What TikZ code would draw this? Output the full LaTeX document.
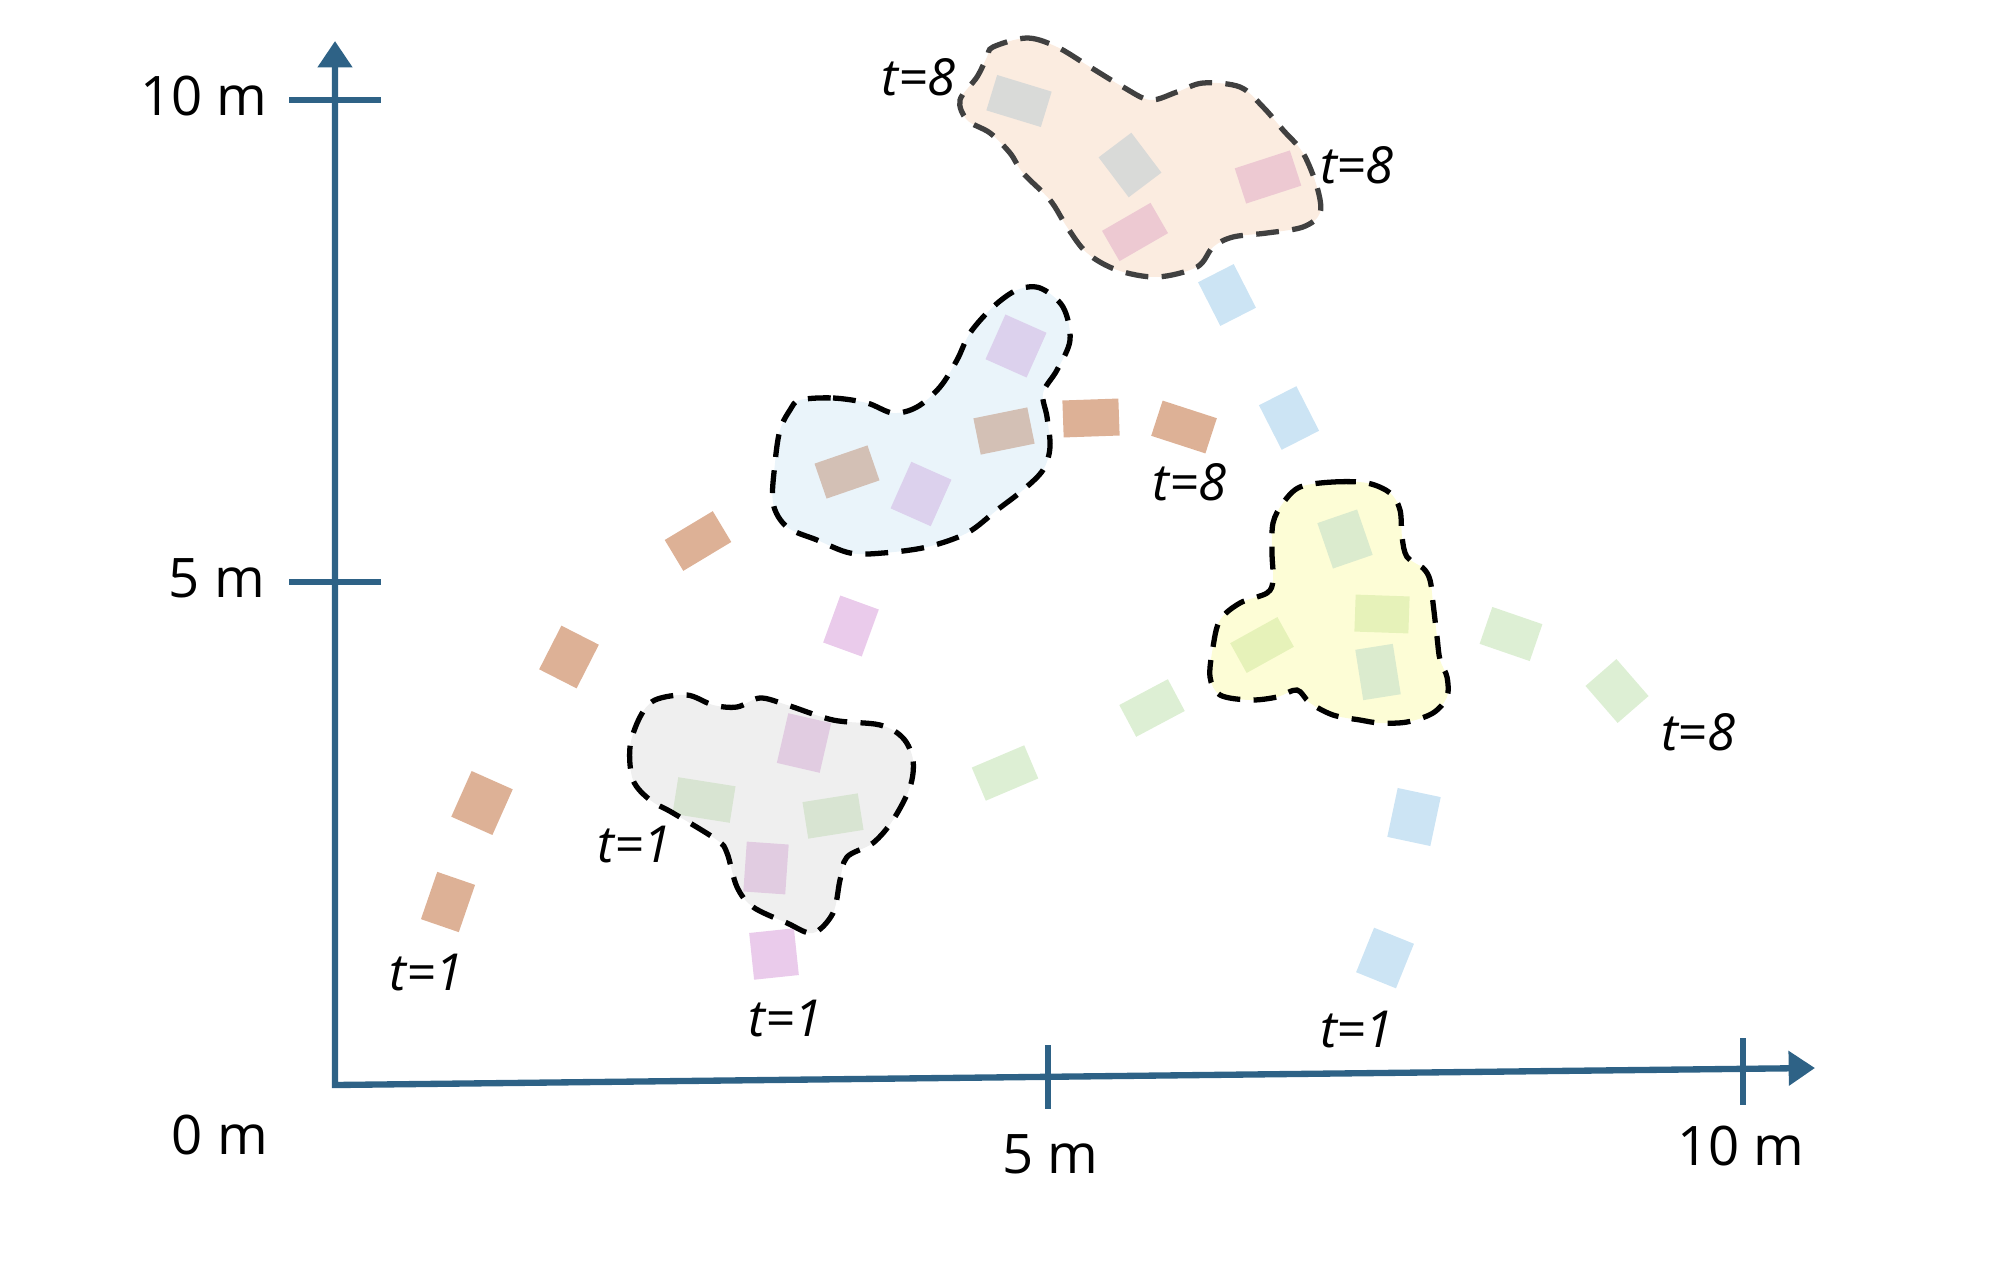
\documentclass[tikz,border=0pt]{standalone}
\usepackage{fontspec}
\setmainfont{Open Sans}
\usetikzlibrary{arrows.meta}
\definecolor{axisblue}{RGB}{46,98,134}
\definecolor{brn}{RGB}{221,177,150}
\definecolor{pnk}{RGB}{234,203,235}
\definecolor{grn}{RGB}{221,239,212}
\definecolor{blu}{RGB}{204,228,244}
\definecolor{greyblob}{RGB}{208,208,208}
\definecolor{blueblob}{RGB}{194,223,241}
\definecolor{peachblob}{RGB}{243,199,164}
\definecolor{yellowblob}{RGB}{249,249,134}
\tikzset{
  blk/.style={inner sep=0pt, draw=none},
  tlab/.style={font=\fontsize{14.5}{16}\selectfont\itshape},
  mlab/.style={font=\fontsize{15.5}{18}\selectfont},
  blob/.style={fill opacity=0.34, dash pattern=on 6.5pt off 3.8pt, line width=1.5pt},
  axis/.style={draw=axisblue, line width=1.8pt}
}
\begin{document}
\begin{tikzpicture}[x=0.01cm,y=-0.01cm]
\useasboundingbox (0,0) rectangle (2004,1264);
% trajectories, t=1 ... t=8
\foreach \x/\y/\w/\h/\a [count=\i] in {448/902/40/50/-19, 482/803/45/50/-24, 569/657/42/49/-27, 698/541/56/36/31,
  847/472/56/37/19, 1004/431/55/37/11.5, 1091/418/56/37/2, 1184/427/57/37/-18}
  \node[blk,fill=brn,minimum width=\w*0.01cm,minimum height=\h*0.01cm,rotate=\a] (brn\i) at (\x,\y) {};
\foreach \x/\y/\w/\h/\a [count=\i] in {774/954/45/47/6, 766/868/42/50/-4, 804/743/44/51/-13, 851/626/41/50/-20,
  921/494/44/51/-24, 1016/346/45/49/-24, 1135/232/56/35/30, 1268/177/58/37/18}
  \node[blk,fill=pnk,minimum width=\w*0.01cm,minimum height=\h*0.01cm,rotate=\a] (pnk\i) at (\x,\y) {};
\foreach \x/\y/\w/\h/\a [count=\i] in {704/800/58/37/-9, 833/816/56/37/9, 1005/773/57/36/23, 1152/708/55/36/28,
  1262/645/54/34/29, 1382/614/54/37/-2, 1511/634/53/39/-19, 1617/691/41/49/41}
  \node[blk,fill=grn,minimum width=\w*0.01cm,minimum height=\h*0.01cm,rotate=\a] (grn\i) at (\x,\y) {};
\foreach \x/\y/\w/\h/\a [count=\i] in {1385/958/43/48/-22, 1414/817/44/50/-12, 1378/672/38/51/9, 1345/539/42/48/19,
  1289/418/42/50/27, 1227/295/40/49/27, 1130/165/41/50/37, 1019/101/57/37/-17}
  \node[blk,fill=blu,minimum width=\w*0.01cm,minimum height=\h*0.01cm,rotate=\a] (blu\i) at (\x,\y) {};

% clusters
\draw[blob,fill=greyblob] plot[smooth cycle,tension=0.55] coordinates {(655,700) (687,695) (713,705) (737,707) (760,698)
  (787,705) (833,720) (880,725) (903,738) (913,760) (910,787) (893,820) (873,843) (847,857) (840,880) (833,913)
  (813,933) (787,923) (753,907) (737,887) (727,853) (717,840) (673,813) (650,800) (633,780) (630,747) (640,717)};
\draw[blob,fill=blueblob] plot[smooth cycle,tension=0.55] coordinates {(800,400) (833,398) (867,403) (893,413) (917,407)
  (940,387) (957,360) (970,333) (993,307) (1017,290) (1040,288) (1063,307) (1070,340) (1057,370) (1043,393) (1047,417)
  (1050,447) (1043,470) (1023,490) (997,510) (967,533) (927,547) (883,553) (850,553) (817,540) (787,527) (773,503)
  (775,463) (780,430) (790,410)};
\draw[blob,fill=peachblob,draw=black!75] plot[smooth cycle,tension=0.55] coordinates {(993,47) (1027,38) (1057,47)
  (1090,67) (1123,87) (1150,100) (1177,92) (1203,83) (1240,87) (1263,107) (1283,130) (1303,153) (1317,187) (1320,213)
  (1303,227) (1267,233) (1233,237) (1213,247) (1197,267) (1157,277) (1117,270) (1087,253) (1067,227) (1050,200)
  (1023,173) (1010,153) (990,133) (967,120) (960,100) (977,77) (987,57)};
\draw[blob,fill=yellowblob] plot[smooth cycle,tension=0.55] coordinates {(1300,487) (1333,482) (1367,483) (1390,493)
  (1400,510) (1402,537) (1407,557) (1423,568) (1430,580) (1433,603) (1437,637) (1440,660) (1447,677) (1447,697)
  (1433,713) (1407,722) (1380,723) (1360,720) (1333,715) (1310,703) (1297,690) (1277,697) (1250,700) (1220,695)
  (1210,677) (1213,647) (1220,620) (1240,603) (1267,593) (1273,580) (1272,553) (1273,523) (1283,503)};

% time labels
\node[tlab] (bluend) at (919,77) {t=8};
\node[tlab] (pnkend) at (1357,165) {t=8};
\node[tlab] (brnend) at (1190,482) {t=8};
\node[tlab] (grnend) at (1698,732) {t=8};
\node[tlab] (brnstart) at (427,973) {t=1};
\node[tlab] (grnstart) at (635,845) {t=1};
\node[tlab] (pnkstart) at (786,1019) {t=1};
\node[tlab] (blustart) at (1357,1030) {t=1};

% axes
\coordinate (O) at (335,1085);
\coordinate (xtip) at (1815,1068);
\coordinate (ytip) at (335,41);
\draw[axis,line join=miter,{Triangle[length=7.5pt,width=9.5pt]}-{Triangle[length=7.5pt,width=9.5pt]}] (ytip) -- (O) -- (xtip);
\draw[axis] (289,100) -- (381,100);
\draw[axis] (289,582) -- (381,582);
\draw[axis] (1048,1045) -- (1048,1109);
\draw[axis] (1743,1038) -- (1743,1105);
\node[mlab] (y10) at (204,96) {10 m};
\node[mlab] (y5) at (217,578) {5 m};
\node[mlab] (y0) at (220,1135) {0 m};
\node[mlab] (x5) at (1050,1154) {5 m};
\node[mlab] (x10) at (1741,1146) {10 m};
\end{tikzpicture}
\end{document}
